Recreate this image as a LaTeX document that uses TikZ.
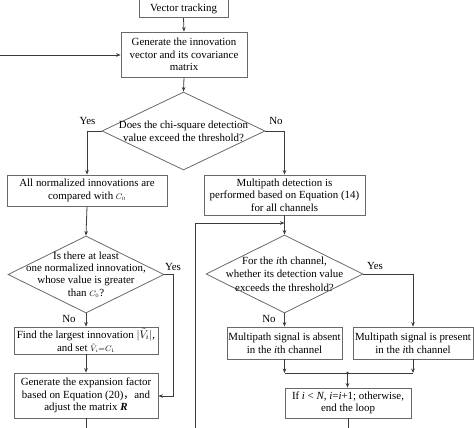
\documentclass[tikz,border=0pt]{standalone}
\usepackage{fontspec}
\setmainfont{Liberation Serif}
\newfontfamily\cjk{Noto Sans CJK SC}
\usetikzlibrary{shapes.geometric,arrows.meta}
\definecolor{boxgray}{RGB}{105,105,105}
\definecolor{linegray}{RGB}{60,60,60}
\begin{document}
\begin{tikzpicture}[x=1pt,y=-1pt,
  font=\fontsize{10.9}{12.6}\selectfont,
  box/.style={draw=boxgray, line width=0.8pt, rectangle, align=center, inner sep=0pt},
  dia/.style={draw=boxgray, line width=0.8pt, diamond, inner sep=0pt},
  conn/.style={draw=linegray, line width=0.8pt},
  arr/.style={conn, -{Stealth[length=4.5pt,width=3.6pt]}},
  lbl/.style={inner sep=0pt, align=center}]
\useasboundingbox (0,0) rectangle (474,428);
% top boxes
\node[draw=boxgray, line width=0.8pt, rectangle, anchor=south, minimum width=89pt,
      text height=22pt, text depth=2.5pt, inner ysep=4pt, inner xsep=0pt] (vt) at (183.5,18) {Vector tracking};
\node[box, minimum width=126pt, minimum height=45pt] (gen) at (184,54.5)
  {Generate the innovation\\vector and its covariance\\matrix};
\coordinate (inL) at (-5,55);
% diamond 1
\node[dia, minimum width=163pt, minimum height=78pt] (d1) at (183.5,131) {};
\node[lbl] (d1t) at (183.5,131) {Does the chi-square detection\\value exceed the threshold?};
\node[lbl] (y1) at (87.5,121) {Yes};
\node[lbl] (n1) at (276,121) {No};
% left branch
\node[box, minimum width=160pt, minimum height=31pt] (nb1) at (87,190.5)
  {All normalized innovations are\\compared with $\scriptstyle C_0$};
\node[dia, minimum width=156pt, minimum height=77pt] (d2) at (86,274.5) {};
\node[lbl, font=\fontsize{10.9}{12.3}\selectfont] (d2t) at (86,274.5)
  {Is there at least\\one normalized innovation,\\whose value is greater\\than $\scriptstyle C_0$?};
\node[lbl] (y2) at (173,267) {Yes};
\node[lbl] (n2) at (69,319) {No};
\node[box, minimum width=144pt, minimum height=27pt, font=\fontsize{10.9}{13.5}\selectfont] (fb) at (86,340.5)
  {Find the largest innovation $|\tilde{V}_i|$,\\and set $\scriptstyle\tilde{V}_i=C_1$};
\node[box, minimum width=144pt, minimum height=45pt] (ge) at (86,395.5)
  {Generate the expansion factor\\based on Equation (20){\cjk ，}and\\adjust the matrix \textbf{\textit{R}}};
\coordinate (geout) at (86,440);
% right branch
\node[box, minimum width=161pt, minimum height=40pt] (md) at (284.5,195)
  {Multipath detection is\\performed based on Equation (14)\\for all channels};
\node[dia, minimum width=157pt, minimum height=78pt] (d3) at (284.5,274) {};
\node[lbl, font=\fontsize{10.9}{13.5}\selectfont] (d3t) at (284.5,274)
  {For the \textit{i}th channel,\\whether its detection value\\exceeds the threshold?};
\node[lbl] (y3) at (375,266) {Yes};
\node[lbl] (n3) at (269,319) {No};
\node[box, minimum width=115pt, minimum height=32pt] (ab) at (284.5,343)
  {Multipath signal is absent\\in the \textit{i}th channel};
\node[box, minimum width=120pt, minimum height=32pt] (pr) at (413,343)
  {Multipath signal is present\\in the \textit{i}th channel};
\coordinate (abj) at (284.5,373);
\coordinate (prj) at (413,373);
\coordinate (mj) at (347.5,373);
\node[box, minimum width=126pt, minimum height=30pt] (ifb) at (348,403)
  {If \textit{i} < \textit{N}, \textit{i}=\textit{i}+1; otherwise,\\end the loop};
\coordinate (ifout) at (348,440);
\coordinate (loopB) at (195,440);
\coordinate (loopT) at (195,223);
\coordinate (loopE) at (284.5,223);
% connectors
\draw[arr] (vt.south) -- (gen.north);
\draw[arr] (inL) -- (gen.west |- inL);
\draw[arr] (gen.south) -- (d1.north);
\draw[arr] (d1.west) -| (nb1.north);
\draw[arr] (d1.east) -| (md.north);
\draw[arr] (nb1.south) -- (d2.north);
\draw[arr] (d2.east) -- (173,274.5) |- (ge.east |- 0,396);
\draw[arr] (d2.south) -- (fb.north);
\draw[arr] (fb.south) -- (ge.north);
\draw[conn] (ge.south) -- (geout);
\draw[arr] (md.south) -- (d3.north);
\draw[arr] (loopB) -- (loopT) -- (loopE);
\draw[arr] (d3.east) -| (pr.north);
\draw[arr] (d3.south) -- (ab.north);
\draw[arr] (ab.south) -- (abj);
\draw[arr] (pr.south) -- (prj);
\draw[conn] (abj) -- (prj);
\fill[linegray] (mj) circle (1.3pt);
\draw[arr] (mj) -- (mj |- ifb.north);
\draw[conn] (ifb.south) -- (ifout);
\end{tikzpicture}
\end{document}
